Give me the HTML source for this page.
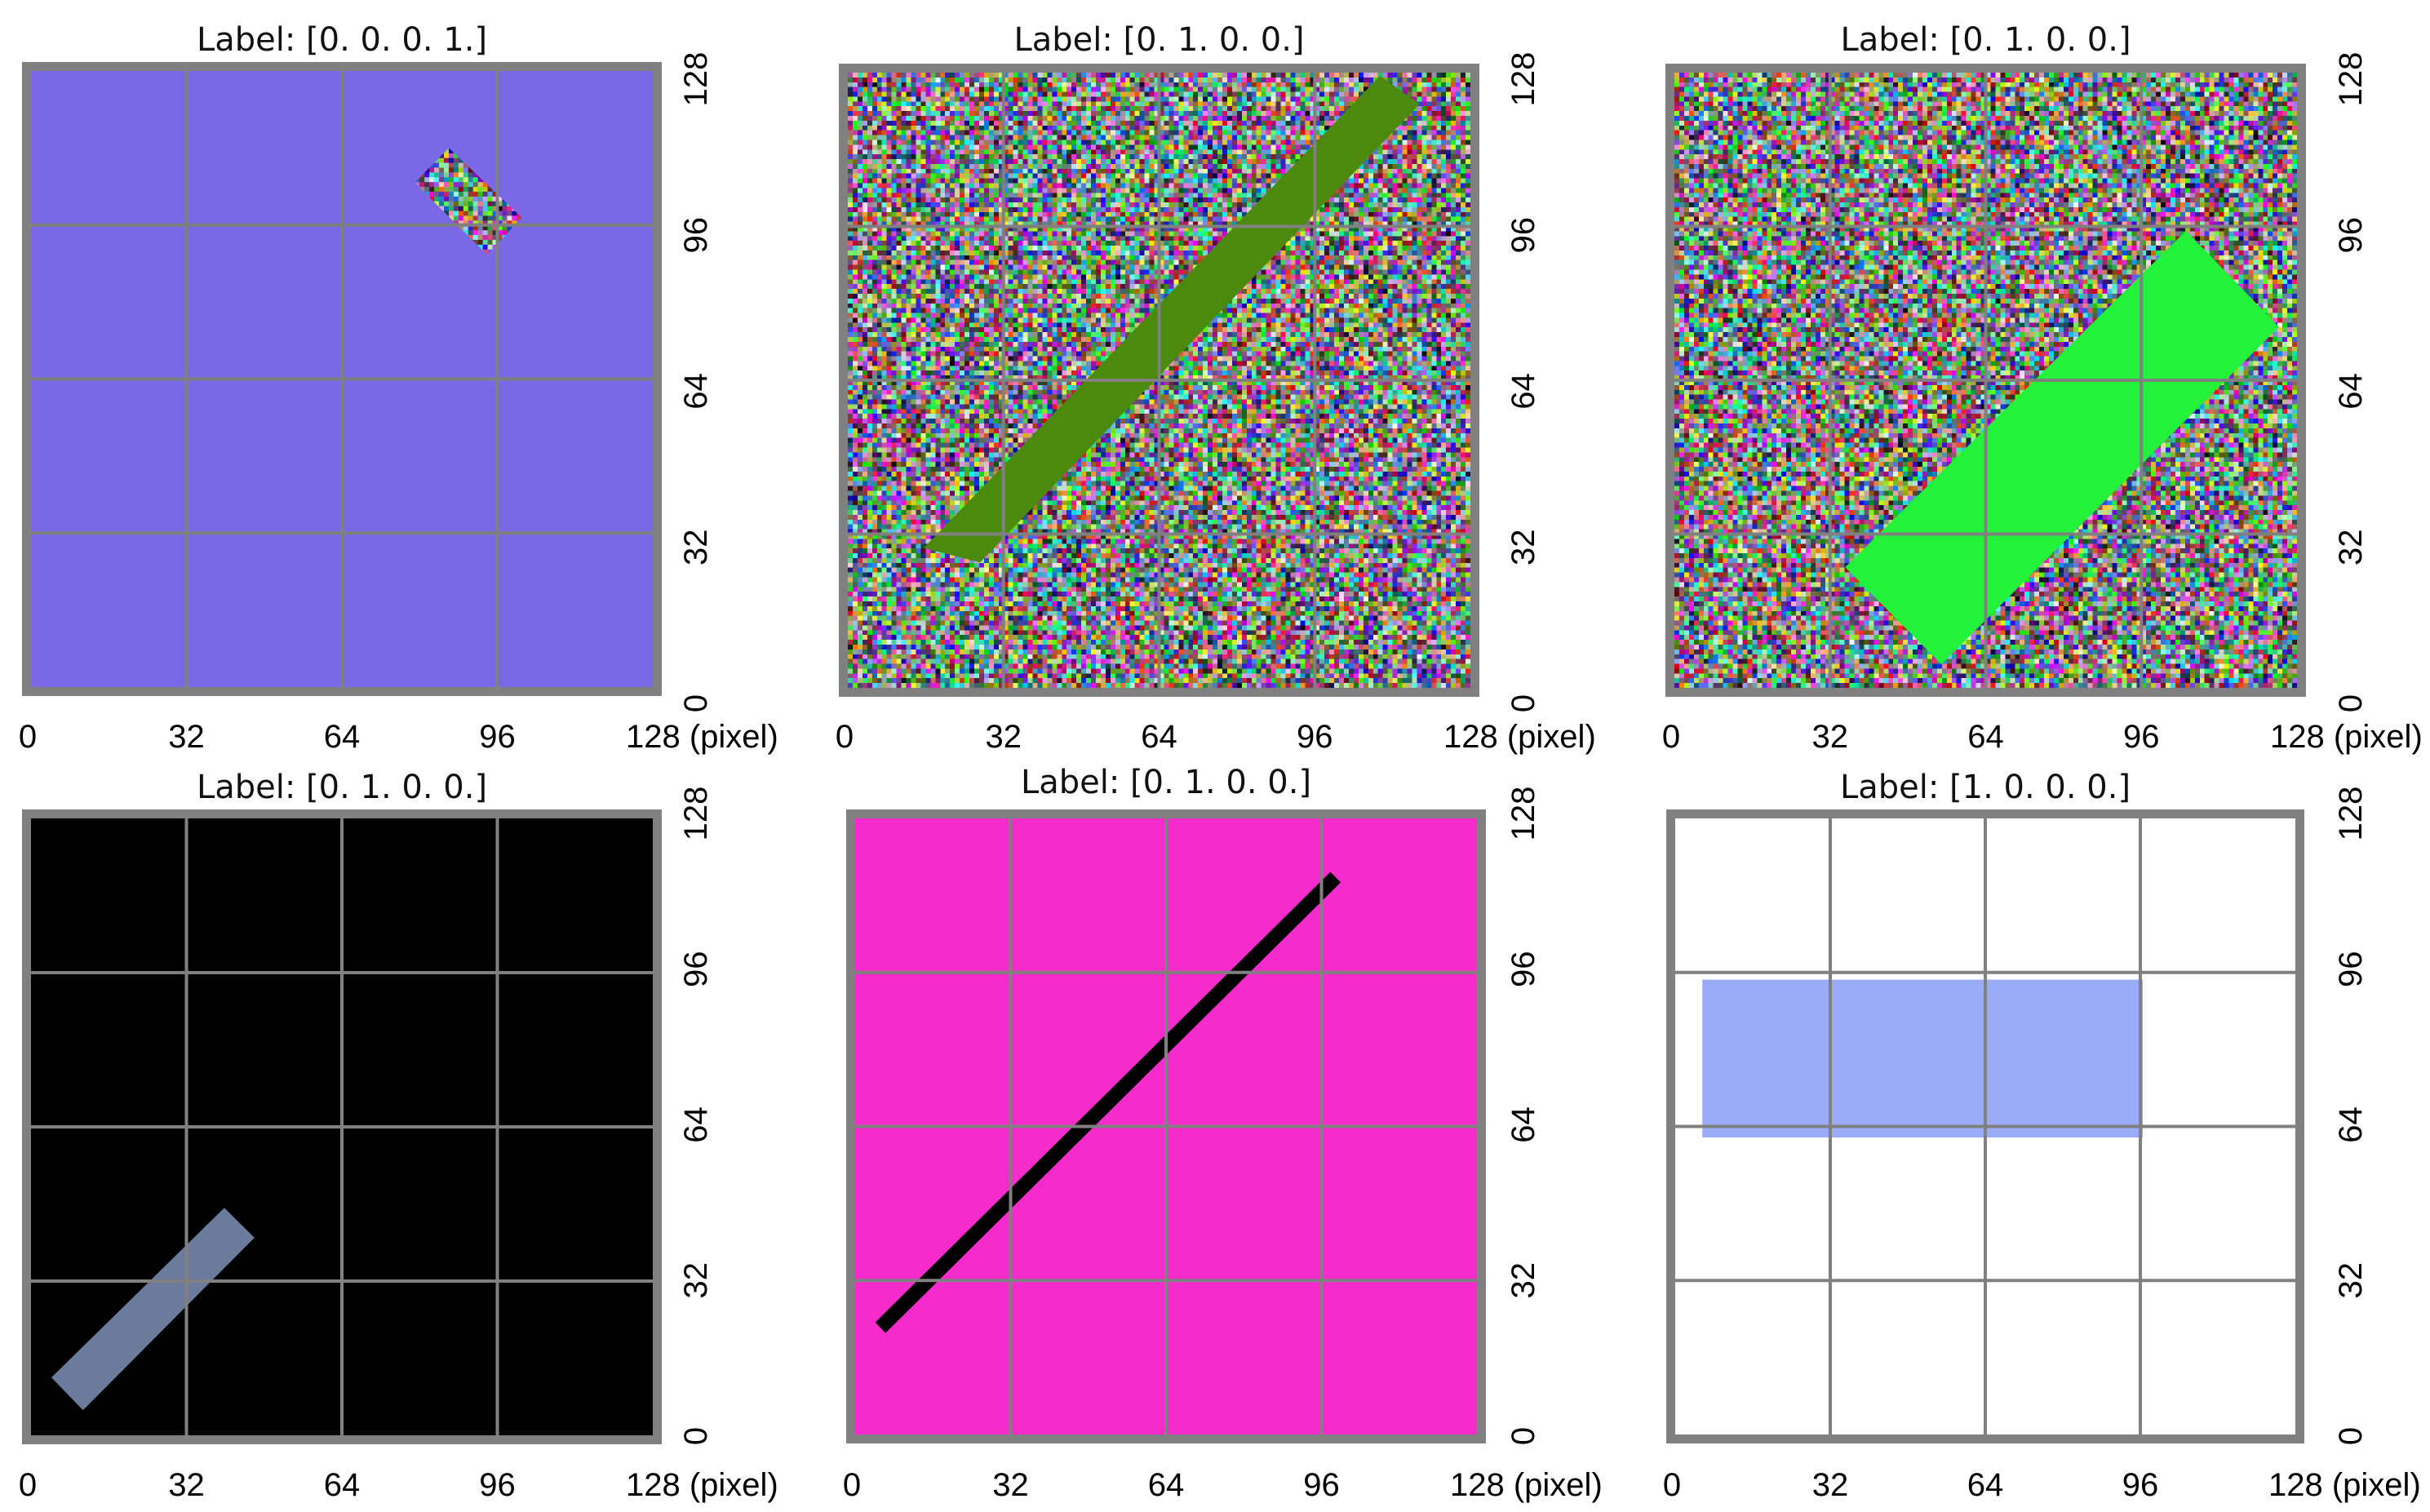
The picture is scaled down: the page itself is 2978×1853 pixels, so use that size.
<!DOCTYPE html>
<html><head><meta charset="utf-8"><title>Label panels</title>
<style>
html,body{margin:0;padding:0;background:#fff;}
#root{position:relative;width:2978px;height:1853px;overflow:hidden;background:#fff;}
canvas{position:absolute;image-rendering:pixelated;}
svg{position:absolute;left:0;top:0;}
</style></head>
<body>
<div id="root">
<svg id="fig" width="2978" height="1853" viewBox="0 0 2978 1853"></svg>
</div>
<script>
const titles=["Label: [0. 0. 0. 1.]","Label: [0. 1. 0. 0.]","Label: [0. 1. 0. 0.]","Label: [0. 1. 0. 0.]","Label: [0. 1. 0. 0.]","Label: [1. 0. 0. 0.]"];
const xTicks=[0,32,64,96,128];
const yTicks=[0,32,64,96,128];
const gridVals=[32,64,96];
const p1PatchX=[86,101,94,79];
const p1PatchY=[112,97.6,89.7,104.8];
const p2BandX=[109.4,117.6,27.2,15.6];
const p2BandY=[127.3,121.5,26.1,29.1];
const p3BandX=[105.2,124.3,54.9,35.1];
const p3BandY=[95.1,75.1,4.9,25.1];
const p4BarX=[39.8,46.0,10.7,4.2];
const p4BarY=[47.2,41.0,5.2,12.0];
const p5LineX=[5.2,98.9];
const p5LineY=[22.2,115.8];
const p6RectX=[5.6,96.5];
const p6RectY=[61.7,94.5];

const NS="http://www.w3.org/2000/svg";
const svg=document.getElementById('fig');
const root=document.getElementById('root');
const B=11;
const panels=[
 {ox:27,oy:76,w:784,h:777,bg:"#7b68e6",noise:false,lx:853,row:0,ty:62},
 {ox:1028,oy:78,w:785,h:776,bg:"#888",noise:true,lx:1867,row:0,ty:62},
 {ox:2041,oy:78,w:785,h:776,bg:"#888",noise:true,lx:2881,row:0,ty:62},
 {ox:27,oy:992,w:784,h:778,bg:"#000000",noise:false,lx:853,row:1,ty:978},
 {ox:1037,oy:992,w:784,h:777,bg:"#f52ccb",noise:false,lx:1867,row:1,ty:972},
 {ox:2042,oy:992,w:782,h:777,bg:"#ffffff",noise:false,lx:2881,row:1,ty:978}
];
panels.forEach(p=>{p.ix=p.ox+B;p.iy=p.oy+B;p.iw=p.w-2*B;p.ih=p.h-2*B;});
function sx(p,v){return p.ix+v/128*p.iw;}
function sy(p,v){return p.iy+p.ih-v/128*p.ih;}
function mk(tag,attrs,parent){const e=document.createElementNS(NS,tag);for(const k in attrs)e.setAttribute(k,attrs[k]);(parent||svg).appendChild(e);return e;}

// seeded texture generator (visual noise texture only, not chart data)
let seed=12345;
function rnd(){seed=(seed*1103515245+12345)&0x7fffffff;return seed/0x7fffffff;}
function noiseCanvas(p){
  const c=document.createElement('canvas');
  c.width=128;c.height=128;
  c.style.left=p.ix+'px';c.style.top=p.iy+'px';
  c.style.width=p.iw+'px';c.style.height=p.ih+'px';
  const ctx=c.getContext('2d');
  const img=ctx.createImageData(128,128);
  for(let i=0;i<128*128;i++){img.data[i*4]=rnd()*255;img.data[i*4+1]=rnd()*255;img.data[i*4+2]=rnd()*255;img.data[i*4+3]=255;}
  ctx.putImageData(img,0,0);
  root.insertBefore(c,svg);
  return c;
}
function poly(p,xs,ys){return xs.map((x,i)=>sx(p,x)+','+sy(p,ys[i])).join(' ');}

panels.forEach((p,idx)=>{
  const g=mk('g',{});
  
  
  if(!p.noise){
    const bg=mk('rect',{x:p.ix,y:p.iy,width:p.iw,height:p.ih,fill:p.bg},g);
    
    
  } else {
    const c=noiseCanvas(p);
    
    
  }
  p.g=g;
});

// panel 1 noise patch (SVG cells clipped to the patch polygon)
(function(){
  const p=panels[0];
  const defs=mk('defs',{});
  const cp=mk('clipPath',{id:'patchClip'},defs);
  mk('polygon',{points:poly(p,p1PatchX,p1PatchY)},cp);
  const pg=mk('g',{'clip-path':'url(#patchClip)'},p.g);
  
  
  const x0=Math.floor(Math.min(...p1PatchX)),x1=Math.ceil(Math.max(...p1PatchX));
  const y0=Math.floor(Math.min(...p1PatchY)),y1=Math.ceil(Math.max(...p1PatchY));
  const cw=p.iw/128,ch=p.ih/128;
  for(let u=x0;u<x1;u++){for(let v=y0;v<y1;v++){
    const col='rgb('+Math.round(rnd()*255)+','+Math.round(rnd()*255)+','+Math.round(rnd()*255)+')';
    mk('rect',{x:sx(p,u),y:sy(p,v+1),width:cw+0.5,height:ch+0.5,fill:col},pg);
  }}
})();

let e;
e=mk('polygon',{points:poly(panels[1],p2BandX,p2BandY),fill:"#4b8a0c"},panels[1].g);


e=mk('polygon',{points:poly(panels[2],p3BandX,p3BandY),fill:"#22f23a"},panels[2].g);


e=mk('polygon',{points:poly(panels[3],p4BarX,p4BarY),fill:"#6c7b9c"},panels[3].g);


e=mk('line',{x1:sx(panels[4],p5LineX[0]),y1:sy(panels[4],p5LineY[0]),x2:sx(panels[4],p5LineX[1]),y2:sy(panels[4],p5LineY[1]),stroke:"#000",'stroke-width':18},panels[4].g);


e=mk('rect',{x:sx(panels[5],p6RectX[0]),y:sy(panels[5],p6RectY[1]),width:sx(panels[5],p6RectX[1])-sx(panels[5],p6RectX[0]),height:sy(panels[5],p6RectY[0])-sy(panels[5],p6RectY[1]),fill:"#9aabf8"},panels[5].g);



panels.forEach((p,idx)=>{
  const g=p.g;
  gridVals.forEach(v=>{
    let l=mk('line',{x1:sx(p,v),y1:p.iy,x2:sx(p,v),y2:p.iy+p.ih,stroke:"#808080",'stroke-width':4},g);
    
    
    l=mk('line',{x1:p.ix,y1:sy(p,v),x2:p.ix+p.iw,y2:sy(p,v),stroke:"#808080",'stroke-width':4},g);
    
    
  });
  const fr=mk('rect',{x:p.ox+B/2,y:p.oy+B/2,width:p.w-B,height:p.h-B,fill:"none",stroke:"#808080",'stroke-width':B},g);
  
  
  const t=mk('text',{x:p.ox+p.w/2,y:p.ty,'text-anchor':'middle','font-family':'DejaVu Sans, sans-serif','font-size':40,fill:'#111'},g);
  t.textContent=titles[idx];
  
  
  const xb=p.row===0?916:1833;
  xTicks.forEach(v=>{
    let tx;
    if(v===128){
      tx=mk('text',{x:sx(p,v)-33,y:xb,'text-anchor':'start','font-family':'Liberation Sans, Arial, sans-serif','font-size':40,fill:'#000'},g);
      tx.textContent=v+' (pixel)';
    } else {
      tx=mk('text',{x:v===0?p.ix-4:sx(p,v),y:xb,'text-anchor':'middle','font-family':'Liberation Sans, Arial, sans-serif','font-size':40,fill:'#000'},g);
      tx.textContent=String(v);
    }
    
    
  });
  const y0=p.row===0?97:997, yr=p.row===0?765:763;
  yTicks.forEach(v=>{
    const cy=y0+(128-v)/128*yr;
    const ty=mk('text',{x:p.lx,y:cy,'text-anchor':'middle','dominant-baseline':'central','font-family':'Liberation Sans, Arial, sans-serif','font-size':40,fill:'#000',transform:'rotate(-90 '+p.lx+' '+cy+')'},g);
    ty.textContent=String(v);
    
    
  });
});
</script>
</body></html>
